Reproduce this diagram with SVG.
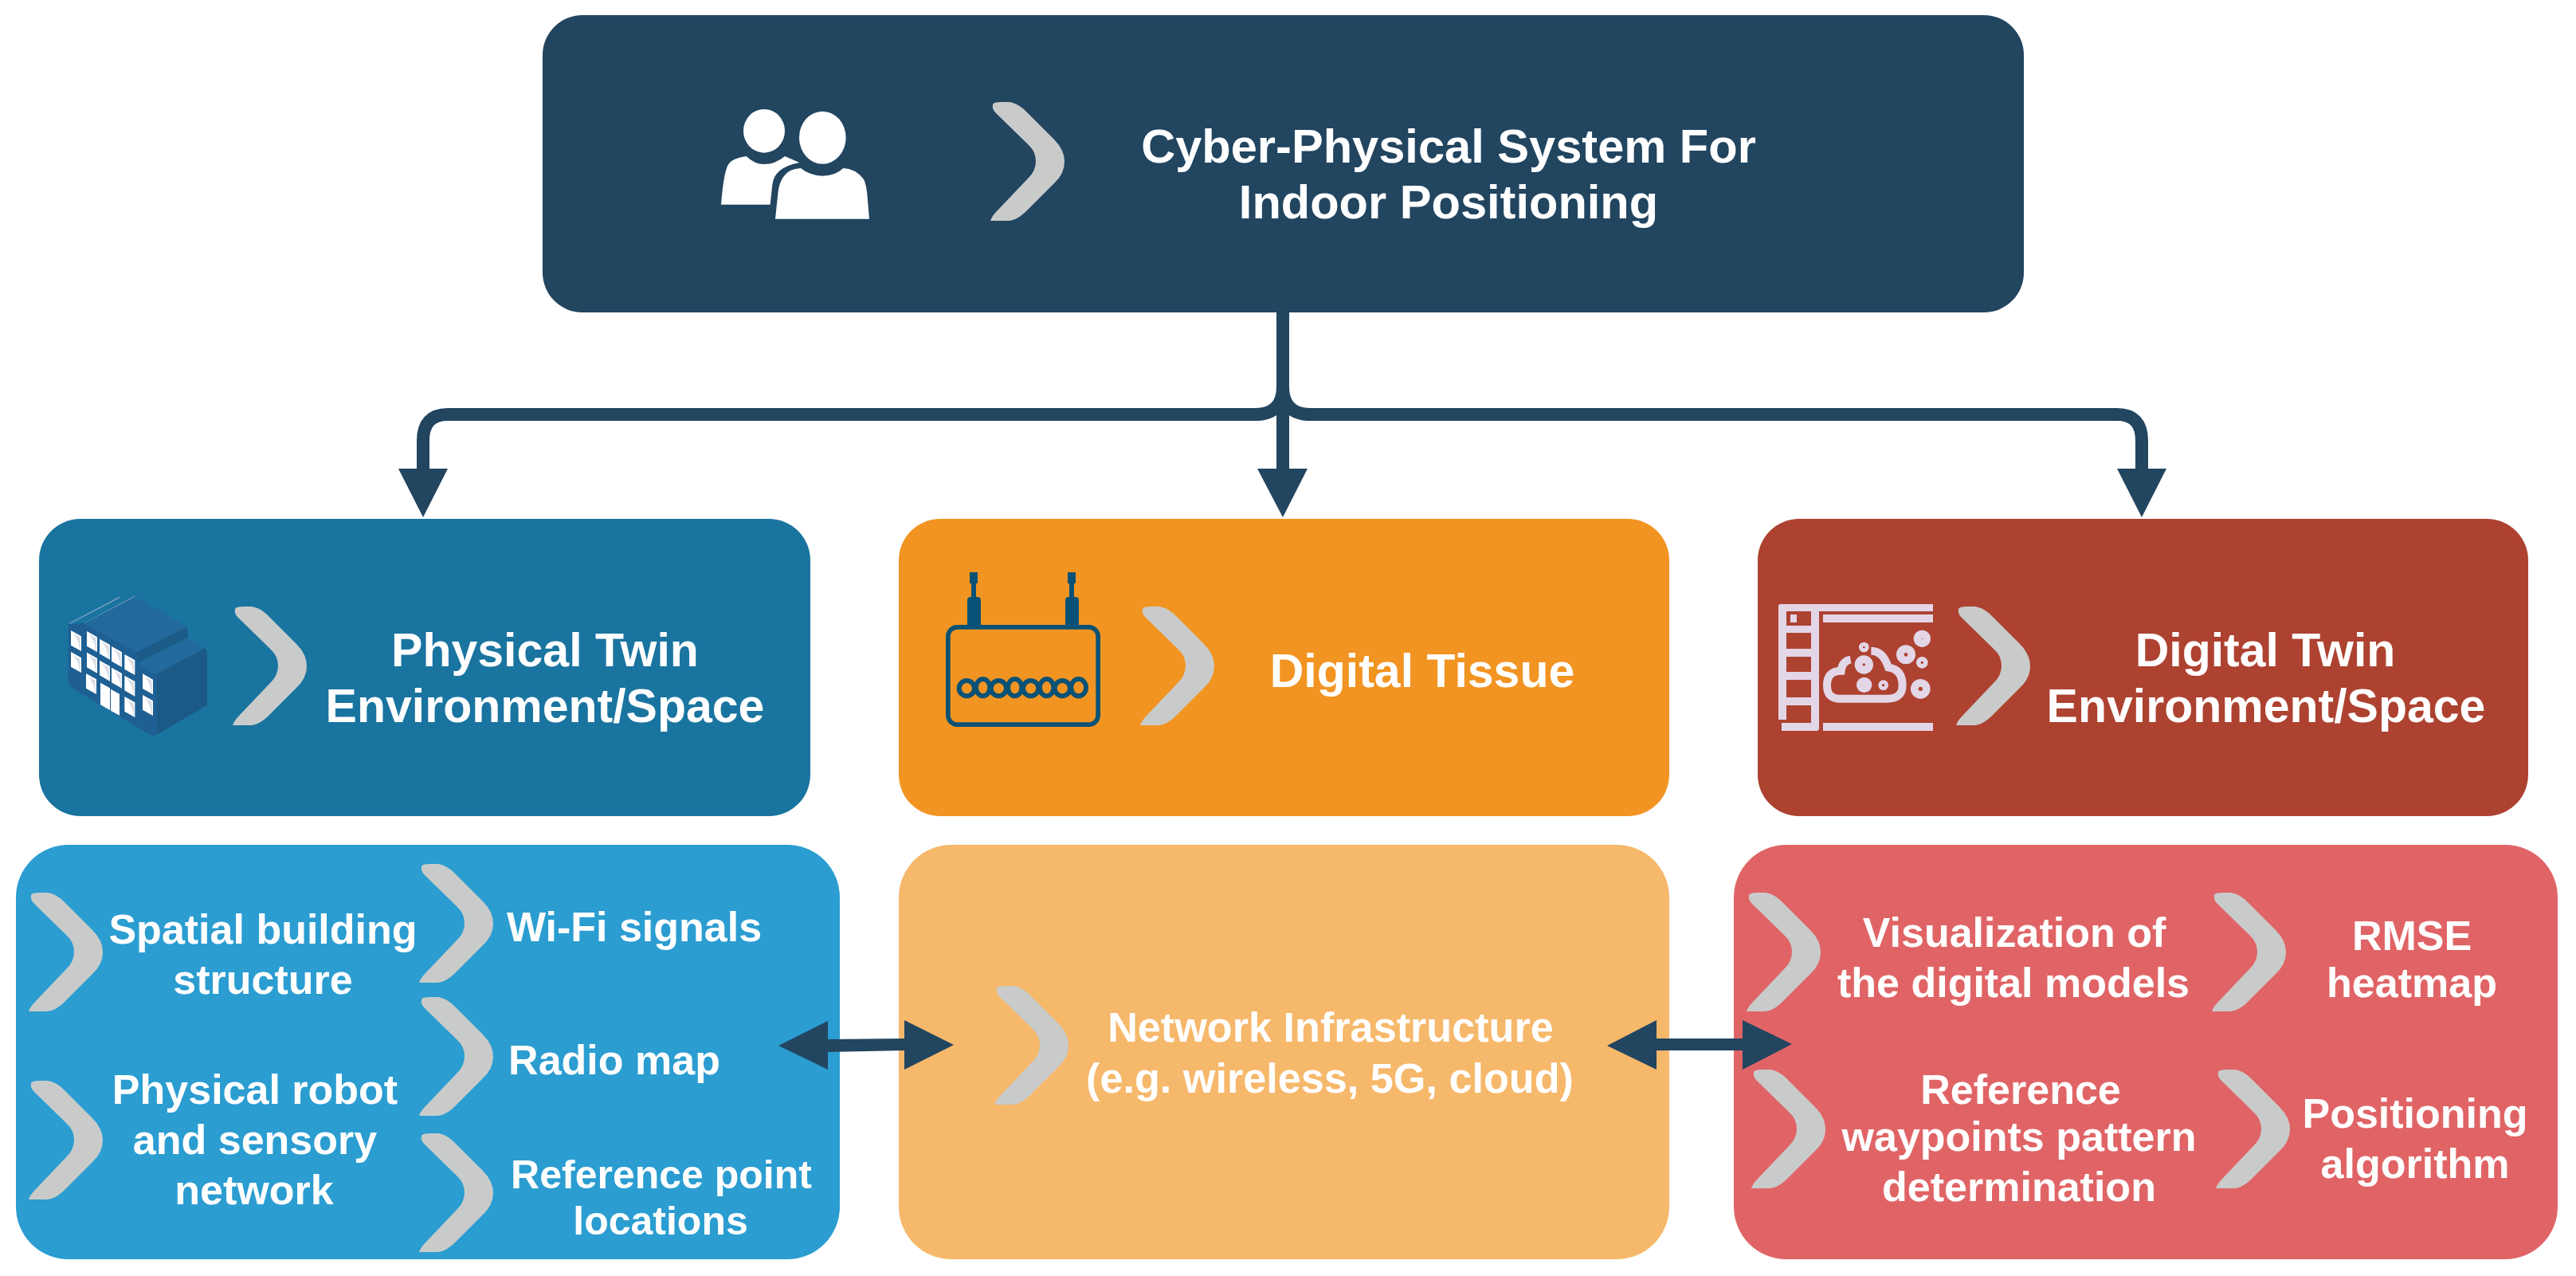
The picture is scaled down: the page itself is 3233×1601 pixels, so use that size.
<svg xmlns="http://www.w3.org/2000/svg" width="3233" height="1601" viewBox="0 0 3233 1601">
<style>
text{font-family:"Liberation Sans",Arial,sans-serif;font-weight:700;fill:#fff;text-anchor:middle}
.t{font-size:59px}.h{font-size:59.6px}.s{font-size:52px}.n{font-size:52.2px}.r{font-size:50px}
.chev{fill:#c9cbca}
.conn{fill:none;stroke:#224560;stroke-width:16}
.head{fill:#224560}
.win{fill:#fff}.shade{fill:#d8dbe3}
.rt{fill:#0a5275}
.dt{fill:#e3d6e7}
</style>
<defs>
<path id="chev" d="M3.5 2Q6 0 14 0L24 0Q36 2 46 13L80 47Q93 60 93 75Q93 90 80 102L48 134Q34 149 22 149L0 149Q2 143 8 137L47 96Q57 87 57 74Q57 62 47 53L7 14Q1 8 3.5 2Z"/>
<g id="win"><polygon class="win" points="0,0 39,22 39,78 0,56"/><path class="shade" d="M8 11L34 26L36 76L33 75Q32 38 8 11Z"/></g>
</defs>
<rect width="3233" height="1601" fill="#fff"/>
<g id="connectors">
<path class="conn" d="M1610 392V595"/>
<path class="conn" d="M1610 485Q1610 520 1575 520H562Q531 520 531 553V592"/>
<path class="conn" d="M1610 485Q1610 520 1645 520H2657Q2688 520 2688 553V592"/>
<polygon class="head" points="500,588 562,588 531,649"/>
<polygon class="head" points="1578,588 1641,588 1610,649"/>
<polygon class="head" points="2657,588 2719,588 2688,649"/>
</g>
<g id="node-top">
<rect x="681" y="19" width="1859" height="373" rx="50" fill="#224560"/>
<g transform="translate(870 100) scale(.3333)" fill="#fff">
<ellipse cx="267" cy="193" rx="78" ry="82"/>
<ellipse cx="487" cy="218" rx="88" ry="99"/>
<path d="M105 470H290L298 395Q305 330 400 312L345 288Q310 318 267 318Q230 318 200 288Q150 295 135 315Q115 340 105 470Z"/>
<path d="M309 524H663L655 430Q650 385 640 372Q610 335 565 333Q535 362 487 362Q440 362 405 333Q360 335 340 365Q325 385 320 420Z"/>
</g>
<use href="#chev" class="chev" x="1243" y="128"/>
<text class="h" x="1818" y="204">Cyber-Physical System For</text>
<text class="h" x="1818" y="274">Indoor Positioning</text>
</g>
<g id="node-physical-twin">
<rect x="49" y="651" width="968" height="373" rx="52" fill="#1a74a0"/>
<g transform="translate(60 730) scale(.3333)">
<path fill="#7f9fc0" d="M80 156L268 57L272 60L84 158ZM137 155L325 54L330 57L140 158Z"/>
<path fill="#1f6094" d="M77 160L135 155L335 265L340 305L410 345V575L395 579Q385 578 375 570L100 405Q77 390 77 365Z"/>
<path fill="#226a9e" d="M137 156L328 56L525 168L335 265Z"/>
<path fill="#1c5b88" d="M335 265L525 168L528 210L340 305Z"/>
<path fill="#226a9e" d="M342 306L528 212L585 245Q598 255 600 265L410 347Q395 345 385 338Z"/>
<path fill="#1b5a87" d="M410 347L590 250Q600 258 600 270V465L410 575Z"/>
<use href="#win" x="87" y="183"/><use href="#win" x="87" y="264"/>
<use href="#win" x="147" y="186"/><use href="#win" x="147" y="266"/><use href="#win" x="144" y="345"/>
<use href="#win" x="195" y="215"/><use href="#win" x="195" y="296"/>
<use href="#win" x="240" y="243"/><use href="#win" x="240" y="323"/>
<use href="#win" x="289" y="273"/><use href="#win" x="289" y="353"/><use href="#win" x="289" y="432"/>
<use href="#win" x="357" y="346"/><use href="#win" x="357" y="426"/>
<polygon class="win" points="198,380 234,400 234,483 198,463"/>
<polygon class="win" points="237,404 270,422 270,503 237,485"/>
</g>
<use href="#chev" class="chev" x="292" y="761"/>
<text class="t" x="684" y="836">Physical Twin</text>
<text class="t" x="684" y="906">Environment/Space</text>
</g>
<g id="node-digital-tissue">
<rect x="1128" y="651" width="967" height="373" rx="52" fill="#f29422"/>
<g transform="translate(1170 700) scale(.3333)">
<rect x="59.5" y="260.5" width="565" height="367" rx="35" fill="none" stroke="#0a5275" stroke-width="17"/>
<g class="rt">
<rect x="141" y="54" width="30" height="42"/><rect x="147" y="96" width="18" height="54"/><path d="M132 252V160Q132 147 145 147H170Q183 147 183 160V252Z"/>
<rect x="510" y="54" width="30" height="42"/><rect x="516" y="96" width="18" height="54"/><path d="M501 252V160Q501 147 514 147H539Q552 147 552 160V252Z"/>
</g>
<g fill="none" stroke="#0a5275" stroke-width="18">
<ellipse cx="130" cy="491" rx="29" ry="29"/><ellipse cx="191" cy="488" rx="26" ry="32"/><ellipse cx="250" cy="491" rx="29" ry="29"/><ellipse cx="311" cy="488" rx="26" ry="32"/><ellipse cx="371" cy="491" rx="29" ry="29"/><ellipse cx="431" cy="488" rx="26" ry="32"/><ellipse cx="490" cy="491" rx="29" ry="29"/><ellipse cx="551" cy="488" rx="28" ry="32"/>
</g>
</g>
<use href="#chev" class="chev" x="1431" y="761"/>
<text class="t" x="1785" y="862">Digital Tissue</text>
</g>
<g id="node-digital-twin">
<rect x="2206" y="651" width="967" height="373" rx="52" fill="#ad4231"/>
<g transform="translate(2210 740) scale(.3333)">
<g class="dt">
<path d="M66 62Q66 54 74 54H648V81H219V521Q219 531 209 531H78V501H189V435H96V489H66ZM96 81V135H189V81ZM96 162V222H189V162ZM96 252V309H189V252ZM96 339V405H189V339Z" fill-rule="evenodd"/>
<rect x="234" y="93" width="414" height="30"/><rect x="234" y="501" width="414" height="30"/><rect x="111" y="93" width="24" height="30"/>
</g>
<path d="M338 263Q306 268 302 305Q249 305 249 360Q249 410 295 410H475Q533 410 533 360Q533 300 480 292Q460 230 415 230" fill="none" stroke="#e3d6e7" stroke-width="30"/>
<g class="dt">
<circle cx="388" cy="216" r="19"/><circle cx="388" cy="282" r="35"/><circle cx="389" cy="358" r="29"/><circle cx="461" cy="359" r="19"/><circle cx="546" cy="244" r="36"/><circle cx="607" cy="184" r="32"/><circle cx="607" cy="274" r="22"/><circle cx="601" cy="373" r="37"/>
</g>
<g fill="#ad4231">
<circle cx="388" cy="216" r="4"/><circle cx="388" cy="282" r="5"/><circle cx="461" cy="359" r="5"/><circle cx="546" cy="244" r="7"/><circle cx="607" cy="184" r="2"/><circle cx="607" cy="274" r="5"/><circle cx="601" cy="373" r="8"/>
</g>
</g>
<use href="#chev" class="chev" x="2455" y="761"/>
<text class="t" x="2843" y="836">Digital Twin</text>
<text class="t" x="2844" y="906">Environment/Space</text>
</g>
<g id="panel-physical">
<rect x="20" y="1060" width="1034" height="520" rx="66" fill="#2b9dd1"/>
<use href="#chev" class="chev" x="36" y="1120"/>
<use href="#chev" class="chev" x="526" y="1084"/>
<use href="#chev" class="chev" x="526" y="1251"/>
<use href="#chev" class="chev" x="36" y="1356"/>
<use href="#chev" class="chev" x="526" y="1422"/>
<text class="s" x="330" y="1184">Spatial building</text>
<text class="s" x="330" y="1247">structure</text>
<text class="s" x="796" y="1181">Wi-Fi signals</text>
<text class="s" x="771" y="1348">Radio map</text>
<text class="s" x="320" y="1385">Physical robot</text>
<text class="s" x="320" y="1448">and sensory</text>
<text class="s" x="319" y="1511">network</text>
<text class="r" x="830" y="1491">Reference point</text>
<text class="r" x="829" y="1549">locations</text>
</g>
<g id="panel-tissue">
<rect x="1128" y="1060" width="967" height="520" rx="66" fill="#f6b86b"/>
<use href="#chev" class="chev" x="1248" y="1237"/>
<text class="n" x="1670" y="1307">Network Infrastructure</text>
<text class="n" x="1669" y="1371">(e.g. wireless, 5G, cloud)</text>
</g>
<g id="panel-digital">
<rect x="2176" y="1060" width="1034" height="520" rx="66" fill="#e06466"/>
<use href="#chev" class="chev" x="2192" y="1120"/>
<use href="#chev" class="chev" x="2776" y="1120"/>
<use href="#chev" class="chev" x="2198" y="1342"/>
<use href="#chev" class="chev" x="2781" y="1342"/>
<text class="s" x="2528" y="1188">Visualization of</text>
<text class="s" x="2527" y="1251">the digital models</text>
<text class="s" x="3027" y="1192">RMSE</text>
<text class="s" x="3027" y="1251">heatmap</text>
<text class="s" x="2536" y="1385">Reference</text>
<text class="s" x="2534" y="1444">waypoints pattern</text>
<text class="s" x="2534" y="1507">determination</text>
<text class="s" x="3031" y="1415">Positioning</text>
<text class="s" x="3031" y="1478">algorithm</text>
</g>
<g id="connectors-double">
<polygon class="head" points="977,1312 1039,1281 1039,1304 1135,1303 1135,1280 1197,1311 1135,1342 1135,1318 1039,1320 1039,1342"/>
<polygon class="head" points="2017,1312 2079,1280 2079,1303 2187,1303 2187,1280 2249,1310 2187,1342 2187,1318 2079,1318 2079,1342"/>
</g>
</svg>
